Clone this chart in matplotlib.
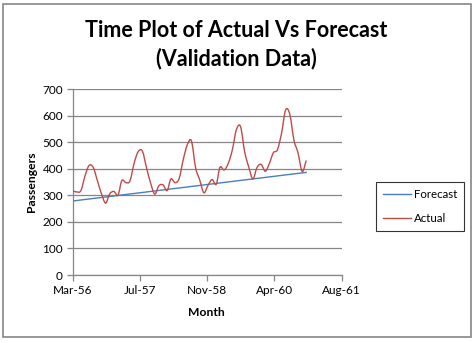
import numpy as np
import pandas as pd
import matplotlib
matplotlib.use("Agg")
import matplotlib.pyplot as plt
import matplotlib.dates as mdates
from matplotlib.path import Path
from matplotlib.patches import PathPatch, Rectangle
from matplotlib.lines import Line2D

# Validation period: Mar 1956 - Dec 1960, monthly
months = pd.date_range("1956-03-01", periods=58, freq="MS")

actual = [
    317, 313, 318, 374, 413, 405, 355, 306, 271, 306,
    315, 301, 356, 348, 355, 422, 465, 467, 404, 347, 305, 336,
    340, 318, 362, 348, 363, 435, 491, 505, 404, 359, 310, 337,
    360, 342, 406, 396, 420, 472, 548, 559, 463, 407, 362, 405,
    417, 391, 419, 461, 472, 535, 622, 606, 508, 461, 390, 432,
]

forecast = [
    279.0, 280.9, 282.8, 284.7, 286.6, 288.5, 290.3, 292.2, 294.1, 296.0,
    297.9, 299.8, 301.7, 303.6, 305.5, 307.4, 309.2, 311.1, 313.0, 314.9,
    316.8, 318.7, 320.6, 322.5, 324.4, 326.3, 328.1, 330.0, 331.9, 333.8,
    335.7, 337.6, 339.5, 341.4, 343.3, 345.2, 347.0, 348.9, 350.8, 352.7,
    354.6, 356.5, 358.4, 360.3, 362.2, 364.1, 365.9, 367.8, 369.7, 371.6,
    373.5, 375.4, 377.3, 379.2, 381.1, 383.0, 384.8, 386.7,
]

blue = "#4A7EBB"
red = "#BE4B48"
grey = "#868686"

plt.rcParams["font.family"] = ["Lato", "DejaVu Sans"]

W, H = 477, 343
fig = plt.figure(figsize=(W / 100, H / 100), dpi=100)

def px(x, y):
    return x / W, 1 - y / H

# chart border
fig.patches.append(Rectangle(px(3, 337), 468 / W, 333 / H, transform=fig.transFigure,
                             fill=False, edgecolor=grey, linewidth=1.2))

x0, y0 = px(72.7, 275)
x1, y1 = px(341.7, 89.3)
ax = fig.add_axes([x0, y0, x1 - x0, y1 - y0])

xd = mdates.date2num(months.to_pydatetime())
start = mdates.date2num(pd.Timestamp("1956-03-01").to_pydatetime())

ax.plot(xd, forecast, color=blue, linewidth=1.0, zorder=3)

# smoothed actual line (Catmull-Rom style bezier segments)
pts = np.column_stack([xd, actual])
verts = [pts[0]]
codes = [Path.MOVETO]
for i in range(len(pts) - 1):
    p0 = pts[i - 1] if i > 0 else pts[i]
    p1 = pts[i]
    p2 = pts[i + 1]
    p3 = pts[i + 2] if i + 2 < len(pts) else pts[i + 1]
    verts += [p1 + (p2 - p0) / 6, p2 - (p3 - p1) / 6, p2]
    codes += [Path.CURVE4] * 3
ax.add_patch(PathPatch(Path(verts, codes), fill=False, edgecolor=red,
                       linewidth=1.0, zorder=4))

ax.set_xlim(start, start + 2000)
ax.set_ylim(0, 700)
ax.xaxis.set_major_formatter(mdates.DateFormatter("%b-%y"))
ax.yaxis.set_major_locator(matplotlib.ticker.MultipleLocator(100))
ax.set_xticks(start + np.arange(0, 2001, 500))

ax.grid(axis="y", color=grey, linewidth=0.9)
ax.set_axisbelow(True)
for s in ["top", "right"]:
    ax.spines[s].set_visible(False)
for s in ["left", "bottom"]:
    ax.spines[s].set_color(grey)
    ax.spines[s].set_linewidth(0.9)
ax.tick_params(direction="out", length=4, width=0.9, color=grey,
               labelsize=8.5, pad=3)

ax.set_xlabel("Month", fontsize=8.7, fontweight="bold")
ax.set_ylabel("Passengers", fontsize=8.7, fontweight="bold")
ax.xaxis.set_label_coords(*px(206, 307.5), transform=fig.transFigure)
ax.yaxis.set_label_coords(*px(37, 182), transform=fig.transFigure)

fig.text(*px(236.5, 37), "Time Plot of Actual Vs Forecast", ha="center",
         va="baseline", fontsize=15.5, fontweight="bold")
fig.text(*px(236.5, 65), "(Validation Data)", ha="center",
         va="baseline", fontsize=15.5, fontweight="bold")

handles = [Line2D([], [], color=blue, linewidth=1.0),
           Line2D([], [], color=red, linewidth=1.0)]
leg = fig.legend(handles, ["Forecast", "Actual"], loc="upper left",
                 bbox_to_anchor=px(375.7, 182.3), bbox_transform=fig.transFigure,
                 fontsize=8.3, frameon=True, fancybox=False, edgecolor="black",
                 handlelength=2.5, handletextpad=0.2, labelspacing=1.15,
                 borderpad=0.6, borderaxespad=0)
leg.get_frame().set_linewidth(0.8)

fig.savefig("out.png", dpi=100, facecolor="white")
